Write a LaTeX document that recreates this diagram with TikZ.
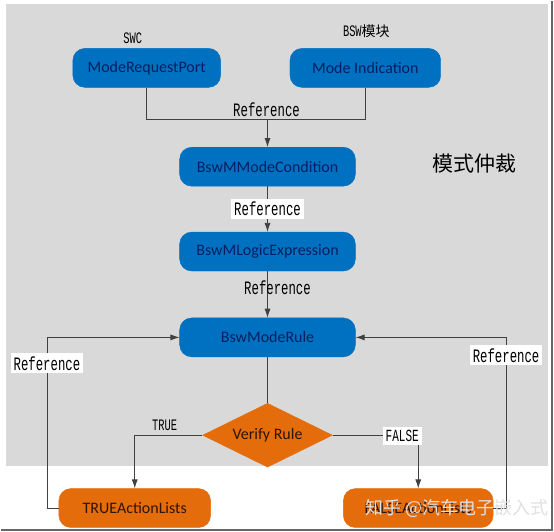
\documentclass[tikz,border=0pt]{standalone}
\usepackage{fontspec}
\setmainfont{Carlito}
\newfontfamily\reffont[FakeStretch=0.65]{Liberation Mono}
\newfontfamily\cjk{Noto Sans CJK SC}
\usetikzlibrary{shapes.geometric,arrows.meta}

\definecolor{boxblue}{RGB}{0,112,192}
\definecolor{boxorange}{RGB}{228,108,10}
\definecolor{bggray}{RGB}{217,217,217}
\definecolor{navytext}{RGB}{0,32,96}
\definecolor{browntext}{RGB}{45,20,0}
\definecolor{linegray}{RGB}{64,64,64}
\definecolor{markgray}{RGB}{225,225,225}

\tikzset{
  bluebox/.style={draw=boxblue, fill=boxblue, rounded corners=12pt, minimum height=39pt,
    inner sep=0pt, text=navytext, font=\fontsize{16}{16}\selectfont},
  orangebox/.style={bluebox, draw=boxorange, fill=boxorange, text=browntext},
  reflabel/.style={font=\reffont\fontsize{19}{19}\selectfont, inner xsep=3pt, inner ysep=3pt},
  smalllabel/.style={font=\reffont\fontsize{16}{16}\selectfont, inner sep=1pt},
  whitelabel/.style={reflabel, fill=white},
  link/.style={draw=linegray, line width=0.8pt},
  arr/.style={link, -{Latex[length=9pt,width=6pt]}}
}

\begin{document}
\begin{tikzpicture}[x=1pt,y=-1pt]
    % background
    \fill[white] (0,0) rectangle (554,531);
    \fill[bggray] (5,3) rectangle (548,466);
    \draw[linegray!80, line width=2pt] (552,0) -- (552,530) -- (0,530);
    \useasboundingbox (0,0) rectangle (554,531);

    \node[bluebox, minimum width=148pt] (mrp) at (146,67) {ModeRequestPort};
    \node[bluebox, minimum width=151pt] (mi) at (365,67) {Mode Indication};
    \node[bluebox, minimum width=176pt] (mmc) at (267,166) {BswMModeCondition};
    \node[bluebox, minimum width=176pt] (mle) at (267,251) {BswMLogicExpression};
    \node[bluebox, minimum width=176pt] (mr) at (267,337) {BswModeRule};
    \node[diamond, aspect=2, fill=boxorange, draw=boxorange, inner sep=0pt,
          minimum width=130pt, minimum height=64pt, text=browntext,
          font=\fontsize{16}{16}\selectfont] (vr) at (267,435) {Verify Rule};
    \node[orangebox, minimum width=152pt] (tal) at (134,508) {TRUEActionLists};
    \node[orangebox, minimum width=150pt] (fal) at (418,508) {FALSEActionLists};

    \node[smalllabel] (swc) at (132,37) {SWC};
    \node[smalllabel] (bsw) at (366,30) {BSW{\cjk\fontsize{14}{14}\selectfont 模块}};
    \node[font=\cjk\fontsize{21}{21}\selectfont] (arb) at (474,163) {模式仲裁};

    % top join
    \coordinate (join) at (267,119);
    \draw[link] (mrp.south) |- (join) -| (mi.south);
    \draw[arr] (join) -- (mmc.north);
    \node[reflabel] (ref1) at (266,109) {Reference};

    \draw[arr] (mmc) -- node[whitelabel] (ref2) {Reference} (mle);
    \draw[arr] (mle) -- (mr);
    \node[reflabel] (ref3) at (277,287) {Reference};
    \draw[link] (mr) -- (vr);

    % branches
    \draw[arr] (vr.west) -| (tal.north);
    \node[smalllabel] (ltrue) at (164,425) {TRUE};
    \draw[arr] (vr.east) -| (fal.north);
    \node[whitelabel, font=\reffont\fontsize{17}{17}\selectfont] (lfalse) at (402,436) {FALSE};

    % feedback
    \coordinate (lcorner) at (46,508);
    \coordinate (rcorner) at (506,508);
    \draw[arr] (tal.west) -- (lcorner) |- (mr.west);
    \draw[arr] (fal.east) -- (rcorner) |- (mr.east);
    \node[whitelabel] (ref4) at (46,363) {Reference};
    \node[whitelabel] (ref5) at (506,355) {Reference};

    % watermark
    \node[anchor=west, text=markgray, font=\cjk\fontsize{18}{18}\selectfont] (wm) at (362,508) {知乎 @汽车电子嵌入式};
\end{tikzpicture}
\end{document}
